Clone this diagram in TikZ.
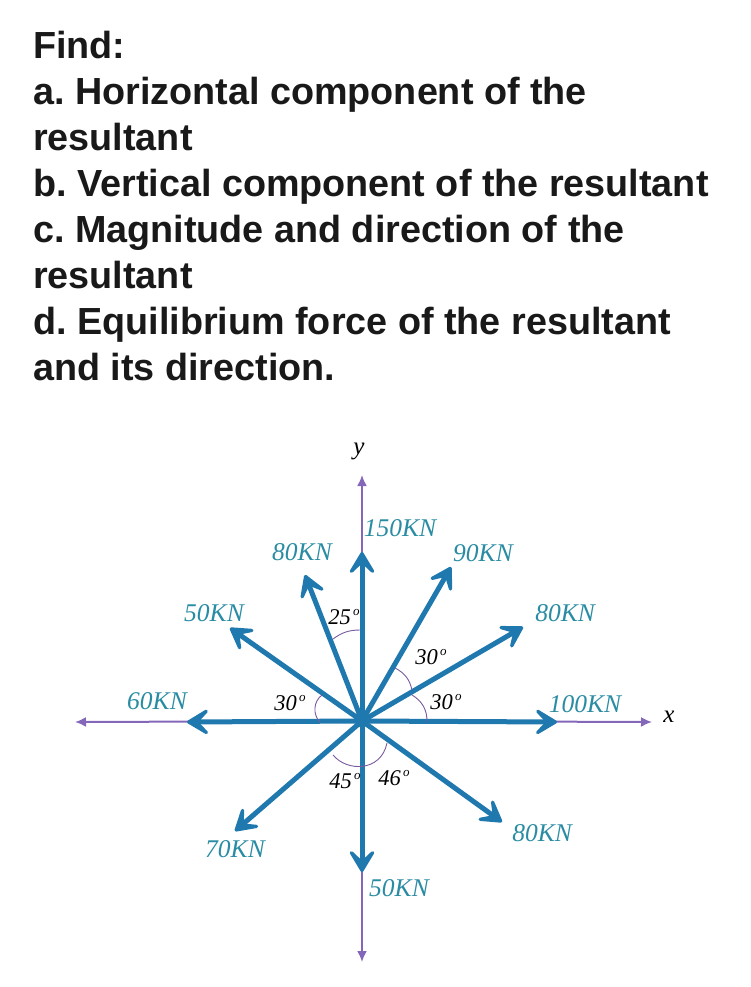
\documentclass[tikz,border=0pt]{standalone}
\usepackage{fontspec}
\setmainfont{Liberation Sans}
\newfontfamily\labelfont{Liberation Serif}
\usetikzlibrary{arrows.meta}
\definecolor{forceblue}{HTML}{1F78AE}
\definecolor{axispurple}{HTML}{8467B8}
\definecolor{labelteal}{HTML}{2A8CA3}
\definecolor{anglepurple}{HTML}{7A5A9E}
\newcommand{\degmark}{\raisebox{.42em}{\fontsize{13}{13}\selectfont\,o}}
\tikzset{
  force/.style={draw=forceblue,line width=5pt,-{Stealth[length=30pt,width=36pt,inset=17pt,round,line width=4pt]}},
  axisline/.style={draw=axispurple,line width=2pt,-{Latex[length=11pt,width=10pt]}},
  anglearc/.style={draw=anglepurple,line width=.9pt},
  forcelabel/.style={inner sep=0pt,text=labelteal,font=\labelfont\itshape\fontsize{25.5}{25.5}\selectfont},
  anglelabel/.style={inner sep=0pt,text=black,font=\labelfont\itshape\fontsize{22.5}{22.5}\selectfont},
  axislabel/.style={inner sep=0pt,text=black,font=\labelfont\itshape\fontsize{25}{25}\selectfont},
}
\begin{document}
\begin{tikzpicture}[x=1pt,y=-1pt]
                \useasboundingbox (0,0) rectangle (750,987);
                \node[anchor=north west,inner sep=0pt,align=left,text=black!90,font=\frenchspacing\bfseries\fontsize{37.75}{46}\selectfont] (question) at (33,31) {Find:\\a. Horizontal component of the\\resultant\\b. Vertical component of the resultant\\c. Magnitude and direction of the\\resultant\\d. Equilibrium force of the resultant\\and its direction.};
                % axes
                \node[circle,fill=forceblue!75!axispurple,inner sep=0pt,minimum size=13pt] (o) at (362,721) {};
                \foreach \x/\y/\n in {362/475/ytop, 362/962/ybot, 75/722/xleft, 652/722/xright}
                \coordinate (\n) at (\x,\y);
                \foreach \t in {ytop, ybot, xleft, xright}
                \draw[axisline] (o) -- (\t);
                % forces
                \foreach \x/\y/\n in {362/552/fa, 305/575/fb, 230/628/fc, 187/722/fd, 451/567/fe, 523/627/ff, 557/722/fg, 235/831/fh, 362/872/fi, 502/822/fj}
                \coordinate (\n) at (\x,\y);
                \foreach \t in {fa, fb, fc, fd, fe, ff, fg, fh, fi, fj}
                \draw[force] (o.center) -- (\t);
                % angle marks
                \foreach \x/\y/\n in {333/639/aa, 360/630/ab, 320/722/ac, 322/695/ad, 395/668/ae, 412/690/af, 412/695/ag, 427/722/ah, 333/755/ai, 347/772/aj, 381/772/al, 387/743/ak}
                \coordinate (\n) at (\x,\y);
                \draw[anglearc] (aa) to[bend left=18] (ab);
                \draw[anglearc] (ac) to[bend left=50] (ad);
                \draw[anglearc] (ae) to[bend left=25] (af);
                \draw[anglearc] (ag) to[bend left=30] (ah);
                \draw[anglearc] (ai) .. controls (aj) and (al) .. (ak);
                % labels
                \foreach \x/\y/\n/\t in {400/528/l150/150KN, 302/552/l80a/80KN, 214/613/l50a/50KN, 157/701/l60/60KN, 483/553/l90/90KN, 565/613/l80b/80KN, 585/704/l100/100KN, 235/849/l70/70KN, 542/833/l80c/80KN, 399/888/l50b/50KN}
                \node[forcelabel] (\n) at (\x,\y) {\t};
                \foreach \x/\y/\n/\t in {344/617/d25/25, 290/703/d30a/30, 431/657/d30b/30, 446/702/d30c/30, 345/781/d45/45, 394/778/d46/46}
                \node[anglelabel] (\n) at (\x,\y) {\t\degmark};
                \foreach \x/\y/\n/\t in {359/451/ylabel/y, 669/717/xlabel/x}
                \node[axislabel] (\n) at (\x,\y) {\t};
            \end{tikzpicture}
\end{document}
